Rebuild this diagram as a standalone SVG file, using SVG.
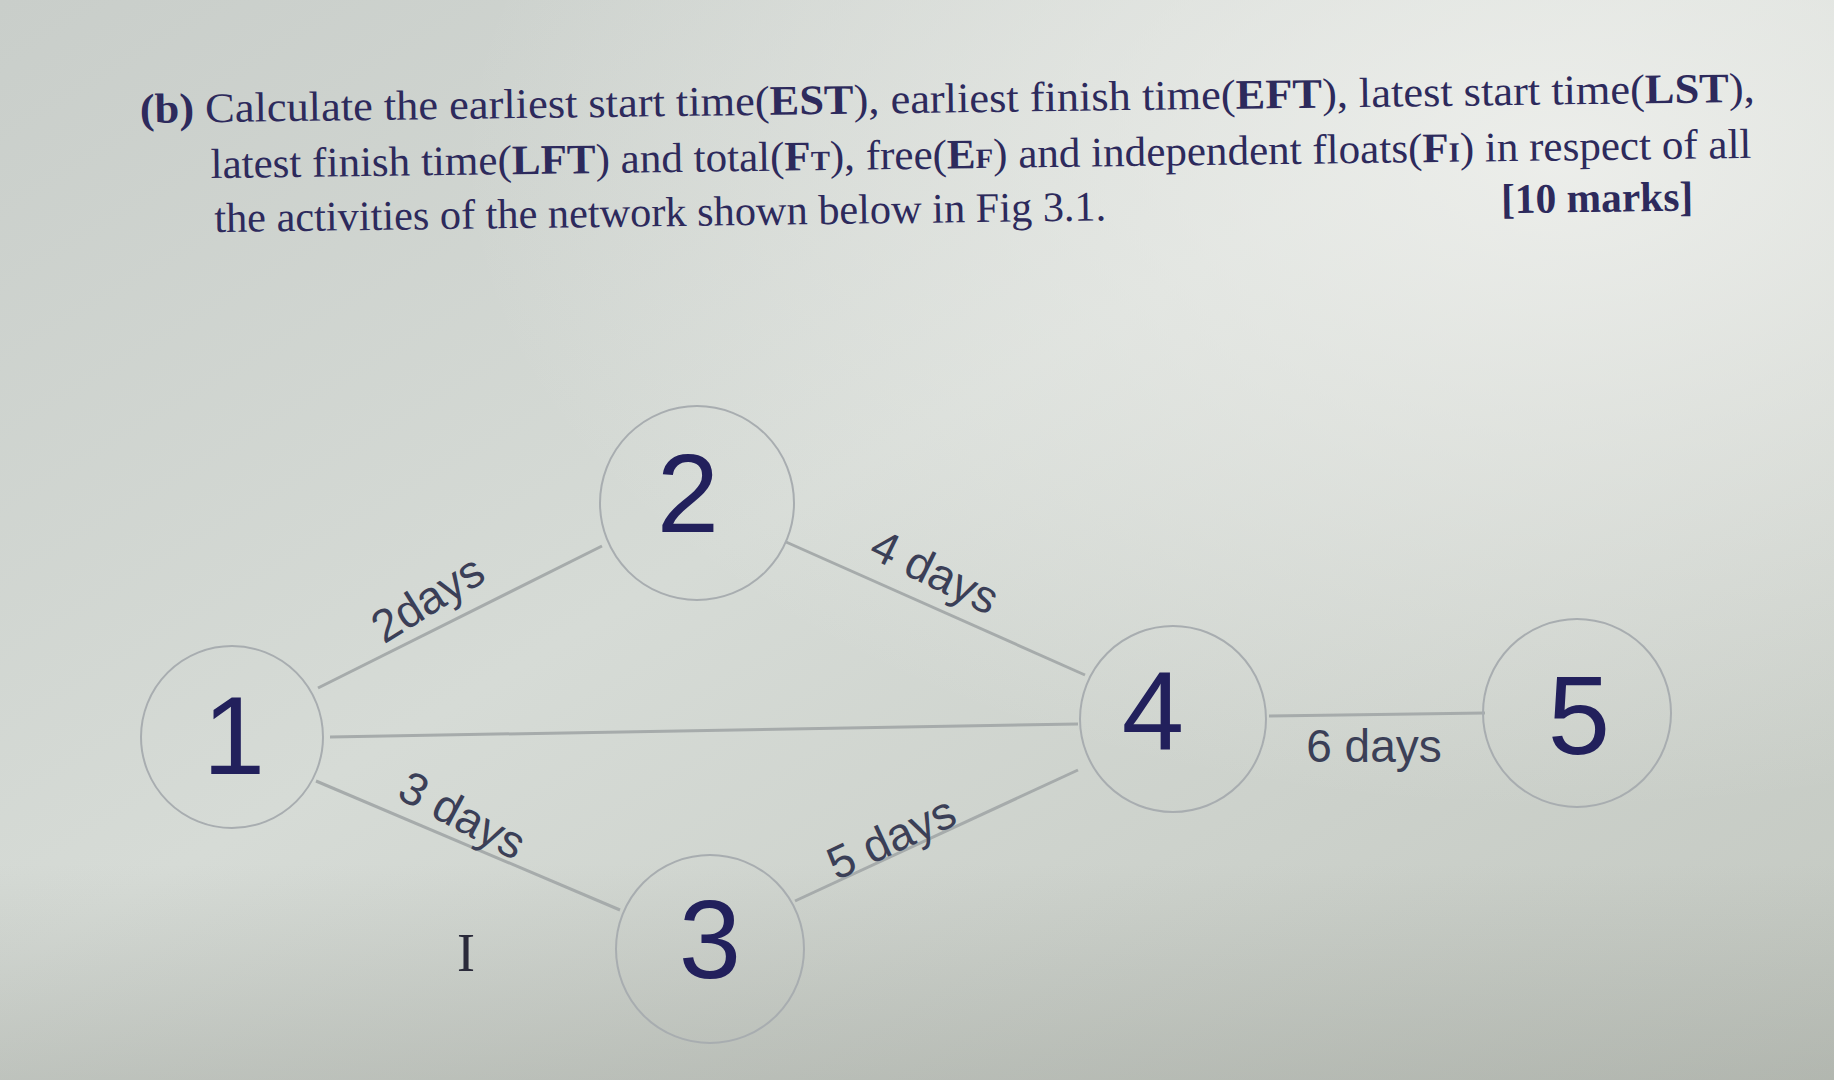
<svg xmlns="http://www.w3.org/2000/svg" width="1834" height="1080" viewBox="0 0 1834 1080">
<defs>
<linearGradient id="bg" x1="0" y1="0" x2="1" y2="1">
<stop offset="0" stop-color="#c9ceca"/>
<stop offset="0.45" stop-color="#d6dbd6"/>
<stop offset="1" stop-color="#c3c8c1"/>
</linearGradient>
<radialGradient id="glow" cx="0.85" cy="0.15" r="0.6">
<stop offset="0" stop-color="#f0f1ee" stop-opacity="0.85"/>
<stop offset="1" stop-color="#f0f1ee" stop-opacity="0"/>
</radialGradient>
<linearGradient id="shade" x1="0" y1="0" x2="0" y2="1">
<stop offset="0.8" stop-color="#8a8e86" stop-opacity="0"/>
<stop offset="1" stop-color="#8a8e86" stop-opacity="0.3"/>
</linearGradient>
<style>
.hd{font-family:"Liberation Serif","Times New Roman",serif;font-size:42px;fill:#2d2a5c}
.b{font-weight:bold}
.sm{font-size:28px}
.node circle{fill:none;stroke:#a8adb0;stroke-width:2}
.num{font-family:"Liberation Sans",Arial,sans-serif;font-size:112px;fill:#22205c;text-anchor:middle}
.edge{stroke:#a6abab;stroke-width:3;fill:none}
.lbl{font-family:"Liberation Sans",Arial,sans-serif;font-size:46px;fill:#3b3f57;text-anchor:middle}
</style>
</defs>
<rect width="1834" height="1080" fill="url(#bg)"/>
<rect width="1834" height="1080" fill="url(#glow)"/>
<rect width="1834" height="1080" fill="url(#shade)"/>

<g id="header" transform="rotate(-0.75 140 123)">
<text class="hd" x="140" y="123" textLength="1615" lengthAdjust="spacingAndGlyphs"><tspan class="b">(b)</tspan> Calculate the earliest start time(<tspan class="b">EST</tspan>), earliest finish time(<tspan class="b">EFT</tspan>), latest start time(<tspan class="b">LST</tspan>),</text>
<text class="hd" x="210" y="179" textLength="1541" lengthAdjust="spacingAndGlyphs">latest finish time(<tspan class="b">LFT</tspan>) and total(<tspan class="b">F<tspan class="sm">T</tspan></tspan>), free(<tspan class="b">E<tspan class="sm">F</tspan></tspan>) and independent floats(<tspan class="b">F<tspan class="sm">I</tspan></tspan>) in respect of all</text>
<text class="hd" x="213" y="233" textLength="892" lengthAdjust="spacingAndGlyphs">the activities of the network shown below in Fig 3.1.</text>
<text class="hd b" x="1500" y="231" textLength="192" lengthAdjust="spacingAndGlyphs">[10 marks]</text>
</g>

<g id="connectors">
<line class="edge" x1="318" y1="688" x2="602" y2="546"/>
<line class="edge" x1="330" y1="737" x2="1078" y2="724"/>
<line class="edge" x1="316" y1="781" x2="620" y2="910"/>
<line class="edge" x1="786" y1="542" x2="1085" y2="675"/>
<line class="edge" x1="795" y1="901" x2="1078" y2="770"/>
<line class="edge" x1="1269" y1="716" x2="1485" y2="713"/>
<text class="lbl" transform="translate(436 612) rotate(-32)">2days</text>
<text class="lbl" transform="translate(928 586) rotate(26)">4 days</text>
<text class="lbl" transform="translate(455 829) rotate(28)">3 days</text>
<text class="lbl" transform="translate(898 852) rotate(-25)">5 days</text>
<text class="lbl" x="1374" y="762">6 days</text>
</g>

<g id="node1" class="node"><circle cx="232" cy="737" r="91"/><text class="num" x="234" y="774">1</text></g>
<g id="node2" class="node"><circle cx="697" cy="503" r="97"/><text class="num" x="688" y="532">2</text></g>
<g id="node3" class="node"><circle cx="710" cy="949" r="94"/><text class="num" x="710" y="978">3</text></g>
<g id="node4" class="node"><circle cx="1173" cy="719" r="93"/><text class="num" x="1153" y="749">4</text></g>
<g id="node5" class="node"><circle cx="1577" cy="713" r="94"/><text class="num" x="1579" y="754">5</text></g>

<text x="466" y="971" font-family="Liberation Serif, serif" font-size="54" fill="#2a2a3a" text-anchor="middle">I</text>
</svg>
